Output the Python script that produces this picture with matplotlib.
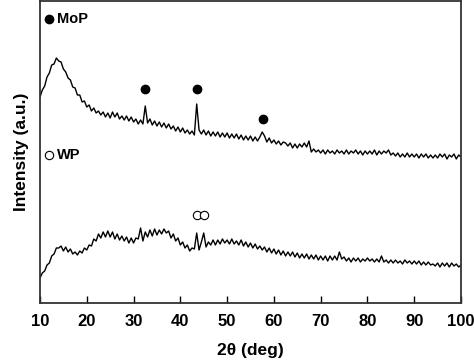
import numpy as np
import matplotlib
matplotlib.use("Agg")
import matplotlib.pyplot as plt

plt.rcParams['font.family'] = ['Liberation Sans', 'DejaVu Sans']

# 2-theta grid (deg), 0.5 deg steps
two_theta = np.arange(10.0, 100.01, 0.5)

# MoP pattern (a.u.)
mop = [
    206, 213, 217, 226, 230, 238, 239, 245, 242, 241,
    234, 231, 225, 223, 216, 215, 208, 208, 201, 202,
    196, 198, 192, 195, 190, 192, 188, 191, 186, 190,
    185, 191, 186, 190, 184, 187, 183, 187, 182, 186,
    181, 184, 179, 183, 179, 197, 180, 184, 178, 182,
    177, 181, 176, 180, 175, 179, 174, 177, 172, 176,
    171, 175, 170, 173, 169, 172, 168, 199, 173, 169,
    173, 168, 172, 167, 171, 167, 171, 166, 170, 166,
    170, 165, 169, 165, 169, 164, 168, 163, 167, 163,
    167, 162, 166, 162, 166, 171, 167, 161, 165, 160,
    163, 159, 162, 158, 161, 160, 157, 160, 155, 159,
    155, 159, 156, 160, 156, 162, 151, 154, 151, 153,
    150, 153, 149, 153, 150, 152, 149, 153, 150, 152,
    149, 153, 149, 152, 150, 153, 149, 152, 148, 152,
    149, 152, 149, 153, 148, 152, 149, 152, 150, 153,
    148, 150, 147, 150, 146, 149, 146, 150, 146, 149,
    146, 149, 145, 149, 146, 149, 145, 148, 145, 148,
    145, 149, 146, 149, 144, 148, 146, 149, 144, 148,
    146,
]

# WP pattern (a.u.)
wp = [
    25, 30, 32, 38, 40, 47, 49, 55, 55, 57,
    52, 56, 51, 54, 49, 51, 48, 52, 50, 55,
    53, 58, 57, 64, 62, 69, 65, 71, 66, 72,
    66, 71, 64, 69, 63, 67, 62, 66, 60, 65,
    60, 65, 64, 75, 62, 71, 66, 73, 67, 74,
    68, 73, 69, 74, 70, 72, 65, 69, 62, 65,
    58, 61, 55, 58, 52, 55, 54, 70, 53, 61,
    70, 56, 61, 58, 63, 58, 63, 59, 64, 60,
    63, 59, 64, 59, 62, 58, 63, 57, 61, 56,
    60, 55, 59, 54, 57, 53, 56, 51, 55, 50,
    54, 49, 53, 48, 52, 47, 51, 47, 51, 46,
    50, 45, 49, 45, 49, 44, 48, 44, 48, 43,
    47, 43, 47, 42, 47, 43, 47, 43, 51, 44,
    46, 42, 45, 41, 45, 42, 45, 41, 44, 42,
    45, 42, 44, 41, 44, 41, 47, 41, 43, 40,
    43, 40, 43, 40, 42, 39, 43, 40, 42, 39,
    42, 39, 42, 38, 41, 38, 41, 38, 39, 37,
    40, 36, 40, 37, 40, 36, 40, 37, 39, 36,
    38,
]

# Peak markers
mop_peak_x = [32.5, 43.5, 57.6]
mop_peak_y = [214, 214, 184]
wp_peak_x = [43.5, 45.0]
wp_peak_y = [88, 88]

x_ticks = [10, 20, 30, 40, 50, 60, 70, 80, 90, 100]

fig = plt.figure(figsize=(4.74, 3.64), dpi=100)
ax = fig.add_axes([40/474, 61/364, 421/474, 302/364])

ax.plot(two_theta, mop, color='black', lw=1.0)
ax.plot(two_theta, wp, color='black', lw=1.0)

ax.plot(mop_peak_x, mop_peak_y, 'o', color='black', ms=6, ls='none')
ax.plot(wp_peak_x, wp_peak_y, 'o', mfc='white', mec='black', mew=0.8, ms=6, ls='none')

# in-plot legend
ax.plot([12.0], [284], 'o', color='black', ms=6)
ax.text(13.7, 284, 'MoP', fontsize=10.5, fontweight='bold', va='center', ha='left')
ax.plot([12.0], [148], 'o', mfc='white', mec='black', mew=0.8, ms=6)
ax.text(13.7, 148, 'WP', fontsize=10.5, fontweight='bold', va='center', ha='left')

ax.set_xlim(10, 100)
ax.set_ylim(0, 302)
ax.set_xticks(x_ticks)
ax.set_xticklabels([str(t) for t in x_ticks], fontsize=12, fontweight='bold')
ax.set_yticks([])
ax.tick_params(axis='x', direction='in', length=5, width=1, pad=8)
for s in ax.spines.values():
    s.set_color('#333333')
    s.set_linewidth(1.3)

ax.set_xlabel('2θ (deg)', fontsize=12.5, fontweight='bold', labelpad=10)
ax.set_ylabel('Intensity (a.u.)', fontsize=12.5, fontweight='bold', labelpad=8)

fig.savefig('out.png', dpi=100)
